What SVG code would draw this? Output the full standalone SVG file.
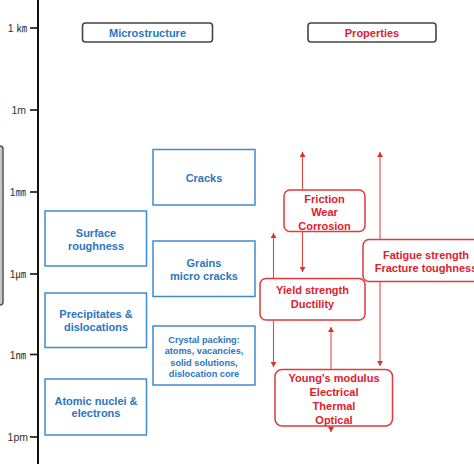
<svg xmlns="http://www.w3.org/2000/svg" width="474" height="474" viewBox="0 0 474 474">
<style>
.bg{fill:#ffffff}
.hdr{fill:#ffffff;stroke:#444444;stroke-width:1.6}
.bbox{fill:#ffffff;stroke:#3f8bd0;stroke-width:1.5}
.rbox{fill:#ffffff;stroke:#e03a3a;stroke-width:1.5}
.bt{font-family:"Liberation Sans","Noto Sans CJK KR",sans-serif;font-weight:bold;font-size:11px;fill:#2a76c2;text-anchor:middle}
.bs{font-size:9.2px}
.rt{font-family:"Liberation Sans","Noto Sans CJK KR",sans-serif;font-weight:bold;font-size:11px;fill:#e0202e;text-anchor:middle}
.ax{stroke:#111111;stroke-width:2;fill:none}
.tk{stroke:#111111;stroke-width:1.6}
.lab{font-family:"Liberation Sans","Noto Sans CJK KR",sans-serif;font-size:10.5px;fill:#333333;text-anchor:end}
.con{stroke:#e04848;stroke-width:1.1;fill:none;marker-end:url(#ah)}
</style>
<defs>
<marker id="ah" markerUnits="userSpaceOnUse" markerWidth="6" markerHeight="6" refX="5" refY="3" orient="auto">
<path d="M0,0 L5,3 L0,6 Z" fill="#e03030"/>
</marker>
</defs>
<rect class="bg" x="0" y="0" width="474" height="474"/>

<g id="axis">
<rect x="-8" y="146" width="11" height="159" rx="3" fill="#c8c8c8" stroke="#555555" stroke-width="1.5"/>
<line class="ax" x1="38" y1="0" x2="38" y2="464"/>
<line class="tk" x1="30" y1="28" x2="38" y2="28"/>
<line class="tk" x1="30" y1="110" x2="38" y2="110"/>
<line class="tk" x1="30" y1="192" x2="38" y2="192"/>
<line class="tk" x1="30" y1="274" x2="38" y2="274"/>
<line class="tk" x1="30" y1="354.5" x2="38" y2="354.5"/>
<line class="tk" x1="30" y1="437" x2="38" y2="437"/>
<text class="lab" x="27" y="32">1 ㎞</text>
<text class="lab" x="26" y="114">1m</text>
<text class="lab" x="26" y="196">1㎜</text>
<text class="lab" x="26" y="278">1㎛</text>
<text class="lab" x="26" y="358.5">1㎚</text>
<text class="lab" x="28" y="441">1pm</text>
</g>

<g id="microstructure">
<rect class="hdr" x="82.5" y="23" width="130" height="19" rx="3"/>
<text class="bt" x="147.5" y="37">Microstructure</text>
</g>
<g id="properties">
<rect class="hdr" x="308" y="23" width="128" height="19" rx="3"/>
<text class="rt" x="372" y="37">Properties</text>
</g>

<g id="cracks">
<rect class="bbox" x="153" y="149.5" width="102" height="55.5"/>
<text class="bt" x="204" y="182">Cracks</text>
</g>
<g id="surface">
<rect class="bbox" x="45" y="211" width="101.5" height="55"/>
<text class="bt" x="96" y="236.5">Surface</text>
<text class="bt" x="96" y="249.5">roughness</text>
</g>
<g id="grains">
<rect class="bbox" x="153" y="241" width="102" height="55.5"/>
<text class="bt" x="204" y="266.5">Grains</text>
<text class="bt" x="204" y="280">micro cracks</text>
</g>
<g id="precipitates">
<rect class="bbox" x="45" y="293" width="101.5" height="54.5"/>
<text class="bt" x="96" y="318">Precipitates &amp;</text>
<text class="bt" x="96" y="331">dislocations</text>
</g>
<g id="crystal">
<rect class="bbox" x="153" y="326" width="102" height="59"/>
<text class="bt bs" x="204" y="342.5">Crystal packing:</text>
<text class="bt bs" x="204" y="354">atoms, vacancies,</text>
<text class="bt bs" x="204" y="365.5">solid solutions,</text>
<text class="bt bs" x="204" y="376.5">dislocation core</text>
</g>
<g id="atomic">
<rect class="bbox" x="45" y="379" width="101.5" height="56"/>
<text class="bt" x="96" y="404.5">Atomic nuclei &amp;</text>
<text class="bt" x="96" y="417">electrons</text>
</g>

<g id="friction">
<rect class="rbox" x="284" y="190" width="81" height="41.5" rx="6"/>
<text class="rt" x="324.5" y="202.5">Friction</text>
<text class="rt" x="324.5" y="216">Wear</text>
<text class="rt" x="324.5" y="229.5">Corrosion</text>
</g>
<g id="fatigue">
<rect class="rbox" x="363" y="239.5" width="130" height="42" rx="6"/>
<text class="rt" x="426" y="258.5">Fatigue strength</text>
<text class="rt" x="426" y="272">Fracture toughness</text>
</g>
<g id="yield">
<rect class="rbox" x="260" y="278.5" width="105" height="41.5" rx="6"/>
<text class="rt" x="312.5" y="294">Yield strength</text>
<text class="rt" x="312.5" y="308">Ductility</text>
</g>
<g id="youngs">
<rect class="rbox" x="275" y="369.5" width="117.5" height="56.5" rx="7"/>
<text class="rt" x="334" y="382">Young's modulus</text>
<text class="rt" x="334" y="396">Electrical</text>
<text class="rt" x="334" y="410">Thermal</text>
<text class="rt" x="334" y="423.5">Optical</text>
</g>

<g id="connectors">
<line class="con" x1="302.5" y1="190" x2="302.5" y2="152"/>
<line class="con" x1="302.5" y1="231.5" x2="302.5" y2="272"/>
<line class="con" x1="380" y1="239.5" x2="380" y2="152"/>
<line class="con" x1="380" y1="281.5" x2="380" y2="366"/>
<line class="con" x1="273.5" y1="278.5" x2="273.5" y2="233"/>
<line class="con" x1="273.5" y1="320" x2="273.5" y2="367"/>
<line class="con" x1="331" y1="369.5" x2="331" y2="327"/>
<line class="con" x1="331" y1="426" x2="331" y2="432"/>
</g>
</svg>
